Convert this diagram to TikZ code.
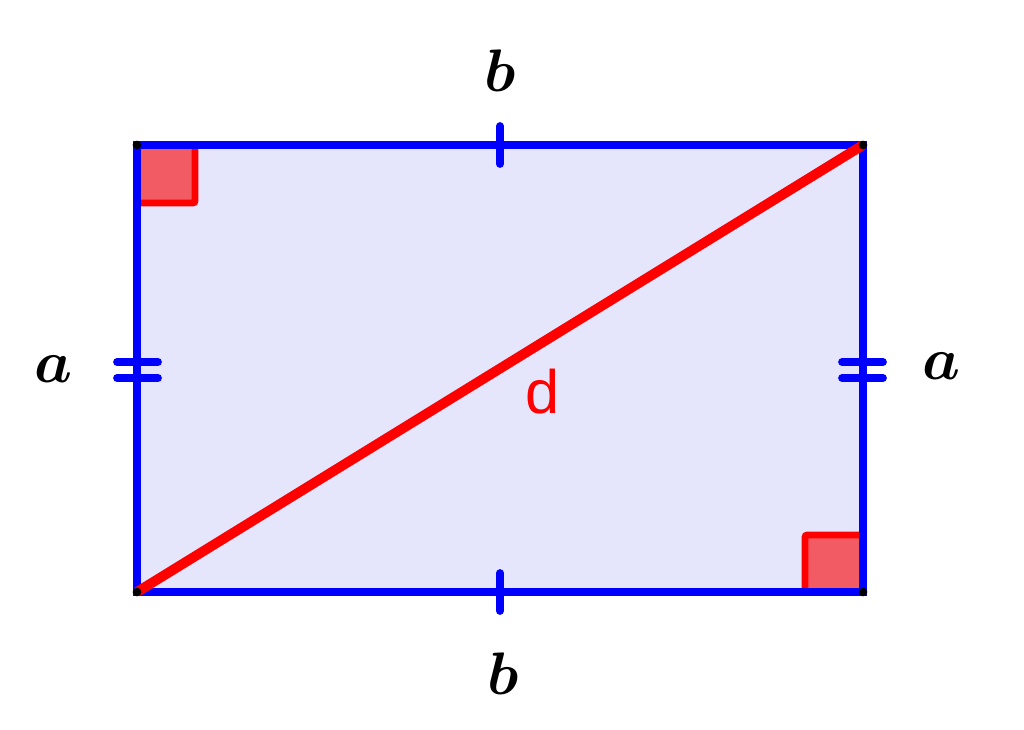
\documentclass[tikz,border=0pt]{standalone}
\usepackage{graphicx}
\usepackage{fontspec}
\newfontfamily\labelsans{Liberation Sans}
\definecolor{sideblue}{RGB}{0,0,255}
\definecolor{diagred}{RGB}{255,0,0}
\definecolor{anglefill}{RGB}{242,90,100}
\definecolor{lavender}{RGB}{229,229,251}
\newcommand{\biglbl}[1]{\scalebox{4.5}{\boldmath$#1$}}
\begin{document}
\begin{tikzpicture}[x=0.75pt,y=-0.75pt,
  side/.style={draw=sideblue,line width=5.8pt},
  tickmark/.style={draw=sideblue,line width=5.8pt,line cap=round},
  rightangle/.style={draw=diagred,fill=anglefill,line width=5pt,rounded corners=1.5pt},
  diag/.style={draw=diagred,line width=7.4pt},
  vdot/.style={circle,fill=black,inner sep=0pt,minimum size=6.5pt},
  mathlbl/.style={inner sep=0pt},
  dlbl/.style={font=\labelsans\fontsize{46}{50}\selectfont,text=diagred}]
\useasboundingbox (0,0) rectangle (1024,729);
\coordinate (A) at (137,592);
\coordinate (B) at (863,592);
\coordinate (C) at (863,145);
\coordinate (D) at (137,145);
\fill[lavender] (A) rectangle (C);
\draw[rightangle] (137,145) -- (195,145) -- (195,203) -- (137,203);
\draw[rightangle] (863,535) -- (805,535) -- (805,592) -- (863,592);
\draw[side] (A) -- (B) -- (C) -- (D) -- cycle;
\draw[tickmark] (500,126) -- (500,164);
\draw[tickmark] (500,573) -- (500,611);
\draw[tickmark] (117,362) -- (158,362);
\draw[tickmark] (117,378) -- (158,378);
\draw[tickmark] (842,362) -- (883,362);
\draw[tickmark] (842,378) -- (883,378);
\draw[diag] (A) -- (C);
\node[vdot] (pA) at (A) {};
\node[vdot] (pB) at (B) {};
\node[vdot] (pC) at (C) {};
\node[vdot] (pD) at (D) {};
\node[mathlbl] (bt) at (500,71) {\biglbl{b}};
\node[mathlbl] (bb) at (503,674) {\biglbl{b}};
\node[mathlbl] (al) at (53,369) {\biglbl{a}};
\node[mathlbl] (ar) at (941,366) {\biglbl{a}};
\node[dlbl] (d) at (543,392) {d};
\end{tikzpicture}
\end{document}
